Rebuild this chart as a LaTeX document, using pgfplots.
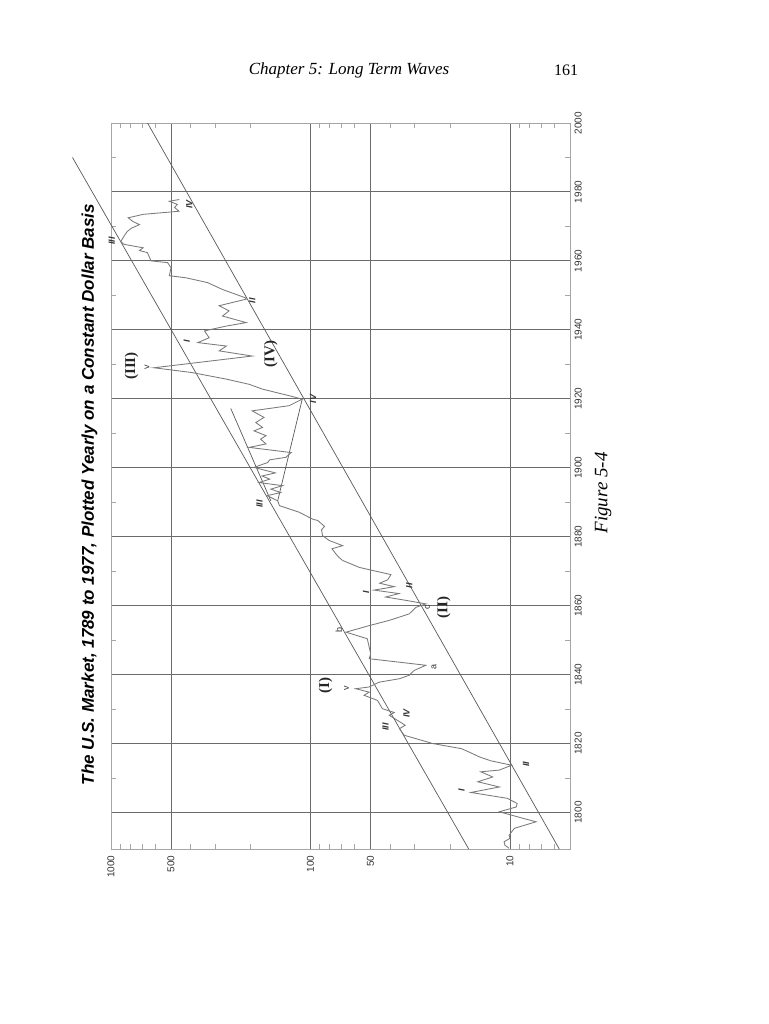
\documentclass[border=0pt]{standalone}
\usepackage{fontspec}
\setmainfont{Liberation Serif}
\setsansfont{Liberation Sans}
\usepackage{pgfplots}
\pgfplotsset{compat=1.18}

\definecolor{gridc}{gray}{0.42}
\definecolor{linec}{gray}{0.48}
\definecolor{chanc}{gray}{0.35}

\begin{document}
\begin{tikzpicture}
\path[use as bounding box, fill=white] (0pt,0pt) rectangle (768pt,-1024pt);
\node[font=\itshape\fontsize{17}{17}\selectfont] at (349pt,-70pt) {Chapter 5: Long Term Waves};
\node[font=\fontsize{16}{16}\selectfont] at (566pt,-70pt) {161};
\node[rotate=90, font=\itshape\fontsize{19}{19}\selectfont] at (603pt,-493pt) {Figure 5-4};

\begin{scope}[shift={(570pt,-849pt)}, rotate=90, transform shape]
\begin{axis}[
  at={(0pt,0pt)}, anchor=south west,
  scale only axis, width=726pt, height=459pt,
  xmin=1789.4, xmax=2000,
  ymode=log, ymin=5, ymax=1000,
  clip=false,
  axis line style={gray!70, line width=0.8pt},
  xtick={1800,1820,1840,1860,1880,1900,1920,1940,1960,1980,2000},
  xticklabels={1800,1820,1840,1860,1880,1900,1920,1940,1960,1980,2000},
  minor xtick={1810,1830,1850,1870,1890,1910,1930,1950,1970,1990},
  ytick={10,50,100,500,1000},
  yticklabels={10,50,100,500,1000},
  minor ytick={6,7,8,9,20,30,40,60,70,80,90,200,300,400,600,700,800,900},
  tick align=inside, major tick length=0pt, minor tick length=5pt,
  every tick/.style={gray!70, line width=0.7pt},
  xmajorgrids, ymajorgrids,
  major grid style={gridc, line width=0.9pt},
  tick label style={font=\sffamily\fontsize{10}{10}\selectfont, text=black!80},
  yticklabel style={xshift=-3pt},
  xticklabel style={yshift=-1pt},
  /pgf/number format/assume math mode=true,
  title={\textbf{\textit{The U.S. Market, 1789 to 1977, Plotted Yearly on a Constant Dollar Basis}}},
  title style={font=\sffamily\fontsize{17}{17}\selectfont, anchor=base, at={(0.488,1)}, yshift=11pt},
]
% channel lines
\addplot[chanc, line width=0.7pt] coordinates {(1789.4,16.1) (1990,1560)};
\addplot[chanc, line width=0.7pt] coordinates {(1789.4,5.66) (2000,656)};
% triangle lines
\addplot[chanc, line width=0.7pt] coordinates {(1890.4,158) (1917.2,251)};
\addplot[chanc, line width=0.7pt] coordinates {(1890.4,146) (1919.9,110)};
% market
\addplot[linec, line width=0.85pt] coordinates {
(1789.6,10.1) (1790.5,10.6) (1791.5,10.7) (1792.5,10.0) (1793.4,10.1)
(1795.4,9.5) (1797.3,7.4) (1798.3,8.6) (1800.2,11.3) (1801.6,9.3)
(1802.6,9.2) (1804.1,10.3) (1805.8,15.7) (1807.4,11.3) (1808.9,14.5)
(1810.3,12.2) (1811.8,14.0) (1812.3,11.3) (1813.7,9.8) (1815,12.5)
(1816.1,14.2) (1817.5,16.0) (1818.5,17.5) (1820,24.4) (1822.4,33.9)
(1824.3,35.8) (1825.3,33.5) (1826.7,36.6) (1828.2,40.3) (1829,38)
(1830.1,43.6) (1832.5,46.1) (1834,53.9) (1834.9,50.8) (1835.9,59.3)
(1836.4,50.8) (1837.8,45.2) (1838.8,35.8) (1839.8,32) (1841.2,30.2)
(1842.7,26.4) (1844.6,50.8) (1846,49.9) (1848,50.8) (1850.4,51.9)
(1852.3,66.4) (1854.2,50.8) (1855.7,40.4) (1857.6,32) (1859.5,29.6)
(1860.5,26.4) (1861.5,33) (1862.5,42) (1863.5,36) (1864.5,48)
(1865.5,38) (1866.5,45) (1867.5,41) (1869,39.5) (1870.2,48.8)
(1871.1,57) (1873.1,69) (1874,72) (1875,74.6) (1876.5,78)
(1877.4,69) (1878.9,80.6) (1880.3,87) (1882,88) (1883,85)
(1884.7,92) (1885.1,97.7) (1887.1,114) (1889,143) (1890.4,146)
(1891.9,165) (1892.8,141) (1893.8,158) (1894.8,138) (1895.7,181)
(1896.7,160) (1897.6,175) (1898.5,150) (1899.3,170) (1900.1,192)
(1901.5,164) (1902.3,160) (1903,133) (1904.4,125) (1905.9,203)
(1906.9,167) (1908.3,178) (1909.3,167) (1910.7,192) (1911.7,174)
(1913.1,188) (1914.6,171) (1916.5,196) (1918,128) (1919.9,110)
(1920.9,128) (1922.8,174) (1924.2,203)
(1925.7,264) (1927.6,392) (1929,609) (1932.4,196) (1933.9,287)
(1935.3,264) (1936.3,367) (1937.7,322) (1939.7,340) (1941.1,264)
(1942.1,210) (1944,276) (1945.5,256) (1947,287) (1948.9,210)
(1949.3,212) (1951.7,276) (1953.7,328) (1955.1,421) (1955.7,510)
(1958,500) (1959.5,520) (1960,630) (1962.4,657) (1963,720)
(1963.8,690) (1964.8,860) (1965.6,893) (1967.2,860) (1968.5,830)
(1969.5,790) (1970.5,720) (1971.5,780) (1972.5,820) (1973.5,690)
(1974.4,456) (1975.5,480) (1976.4,465) (1977.3,510) (1977.8,455)
};
% wave labels
\tikzset{wl/.style={font=\sffamily\itshape\bfseries\fontsize{9}{9}\selectfont, text=black!80},
         wb/.style={font=\bfseries\fontsize{15}{15}\selectfont, text=black!85},
         ws/.style={font=\sffamily\fontsize{9}{9}\selectfont, text=black!80}}
\node[wl] at (axis cs:1806.5,17.5) {I};
\node[wl] at (axis cs:1814,8.3) {II};
\node[wl] at (axis cs:1824.8,42) {III};
\node[wl] at (axis cs:1828.7,33) {IV};
\node[wb] at (axis cs:1836.9,84) {(I)};
\node[ws] at (axis cs:1835.9,66) {v};
\node[ws] at (axis cs:1842.2,24) {a};
\node[ws] at (axis cs:1852.8,72) {b};
\node[ws] at (axis cs:1859.5,25.9) {c};
\node[wb] at (axis cs:1859.5,21.5) {(II)};
\node[wl] at (axis cs:1863.9,52.6) {I};
\node[wl] at (axis cs:1865.8,32) {II};
\node[wl] at (axis cs:1889.5,180) {III};
\node[wl] at (axis cs:1919.9,97) {IV};
\node[wb] at (axis cs:1929.5,790) {(III)};
\node[ws] at (axis cs:1929.2,660) {v};
\node[wb] at (axis cs:1932.9,158) {(IV)};
\node[wl] at (axis cs:1936.8,417) {I};
\node[wl] at (axis cs:1948.4,196) {II};
\node[wl] at (axis cs:1965.7,990) {III};
\node[wl] at (axis cs:1976.4,405) {IV};
\end{axis}
\end{scope}
\end{tikzpicture}
\end{document}
